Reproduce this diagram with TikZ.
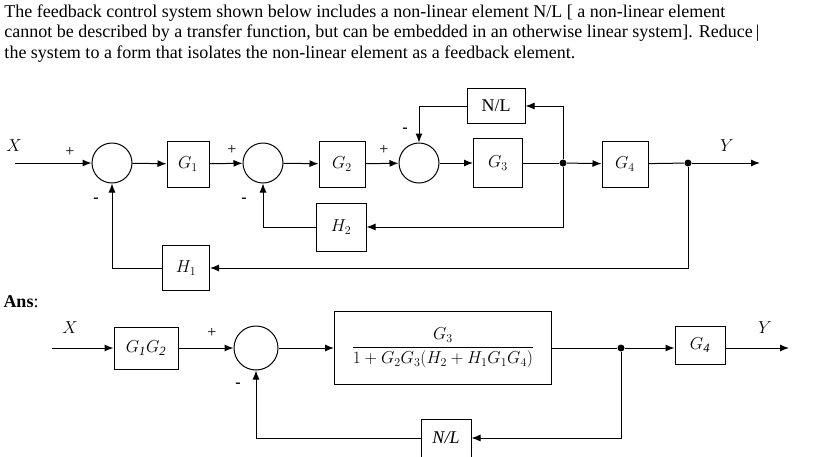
\documentclass[tikz,border=0pt]{standalone}
\usepackage{amsmath}
\usepackage{fontspec}
\setmainfont{Liberation Serif}
\usetikzlibrary{arrows.meta}
\begin{document}
\begin{tikzpicture}[x=1pt,y=-1pt,>={Latex[length=9pt,width=7pt]},line width=1pt,font=\fontsize{18}{21}\selectfont]
        % Styles
        \tikzstyle{block}=[draw,minimum width=46pt,minimum height=46pt,inner sep=2pt]
        \tikzstyle{sum}=[draw,circle,minimum size=40pt,inner sep=0pt]
        \tikzstyle{dot}=[circle,fill,inner sep=0pt,minimum size=7pt]
        \tikzstyle{sign}=[font=\fontsize{16}{18}\selectfont]
        \tikzstyle{information text}=[anchor=west,inner sep=0pt]
        \useasboundingbox (0,0) rectangle (820,456);
        %The text
        \node[information text] (l1) at (4,13) {The feedback control system shown below includes a non-linear element N/L [ a non-linear element};
        \node[information text] (l2) at (4,33) {cannot be described by a transfer function, but can be embedded in an otherwise linear system]. Reduce\,|};
        \node[information text] (l3) at (4,54) {the system to a form that isolates the non-linear element as a feedback element.};
        %top diagram
        \coordinate (in) at (15,163);
        \node at (14,146) {$X$};
        \node[sum] (s1) at (112,163) {};
        \node[block,minimum width=42pt] (g1) at (188,164) {$G_1$};
        \node[sum] (s2) at (263,163) {};
        \node[block] (g2) at (342,164) {$G_2$};
        \node[sum] (s3) at (419,163) {};
        \node[block,minimum width=49pt,minimum height=49pt] (g3) at (498,163) {$G_3$};
        \node[dot] (d1) at (563,163) {};
        \node[block] (g4) at (625,164) {$G_4$};
        \node[dot] (d2) at (688,163) {};
        \coordinate (out) at (760,163);
        \node at (727,146) {$Y$};
        \node[block,minimum width=58pt,minimum height=35pt] (nl) at (496,106) {N/L};
        \node[block,minimum width=50pt,minimum height=48pt] (h2) at (341,227) {$H_2$};
        \node[block,minimum width=47pt,minimum height=45pt] (h1) at (186,268) {$H_1$};
        \draw[->] (in) -- (s1);
        \draw[->] (s1) -- (g1);
        \draw[->] (g1) -- (s2);
        \draw[->] (s2) -- (g2);
        \draw[->] (g2) -- (s3);
        \draw[->] (s3) -- (g3);
        \draw (g3) -- (d1);
        \draw[->] (d1) -- (g4);
        \draw (g4) -- (d2);
        \draw[->] (d2) -- (out);
        \draw[->] (d1) |- (nl.east);
        \draw[->] (nl.west) -| (s3.north);
        \draw[->] (d1) |- (h2.east);
        \draw[->] (h2.west) -| (s2.south);
        \draw[->] (d2) |- (h1.east);
        \draw[->] (h1.west) -| (s1.south);
        \node[sign] at (70,152) {+};
        \node[sign] at (232,150) {+};
        \node[sign] at (384,150) {+};
        \node[sign] at (96,200) {\textbf{-}};
        \node[sign] at (244,200) {\textbf{-}};
        \node[sign] at (405,130) {\textbf{-}};
        %answer
        \node[anchor=west,inner sep=0pt] (ans) at (3,302) {\textbf{Ans}:};
        \coordinate (bin) at (52,348);
        \node at (70,328) {$X$};
        \node[block,minimum width=64pt,minimum height=42pt] (g12) at (146,348) {$G_{\mathit{1}}G_{\mathit{2}}$};
        \node[sum,minimum size=44pt] (bs) at (256,348) {};
        \node[block,minimum width=217pt,minimum height=73pt] (frac) at (443,348) {$\dfrac{G_3}{1+G_2G_3(H_2+H_1G_1G_4)}$};
        \node[dot] (bd) at (621,348) {};
        \node[block,minimum width=50pt,minimum height=38pt] (bg4) at (700,345) {$G_{\mathit{4}}$};
        \coordinate (bout) at (789,348);
        \node at (765,328) {$Y$};
        \node[block,minimum width=50pt,minimum height=38pt] (bnl) at (446,438) {\textit{N/L}};
        \draw[->] (bin) -- (g12);
        \draw[->] (g12) -- (bs);
        \draw[->] (bs) -- (frac);
        \draw (frac) -- (bd);
        \draw[->] (bd) -- (bg4.west |- bd);
        \draw[->] (bg4.east |- bd) -- (bout);
        \draw[->] (bd) |- (bnl.east);
        \draw[->] (bnl.west) -| (bs.south);
        \node[sign] at (212,333) {+};
        \node[sign] at (238,385) {\textbf{-}};
\end{tikzpicture}
\end{document}
